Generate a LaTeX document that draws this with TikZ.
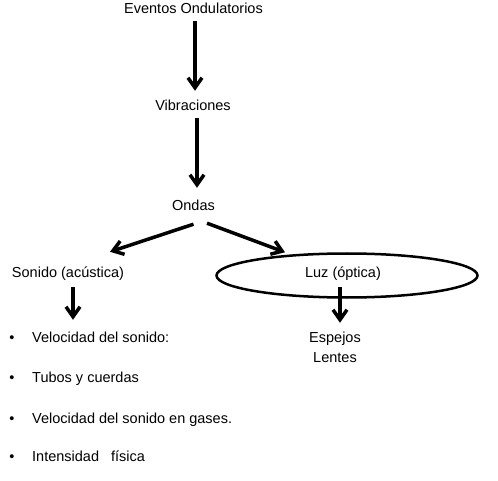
\documentclass[tikz,border=0pt]{standalone}
\usepackage{fontspec}
\setmainfont{Liberation Sans}
\usetikzlibrary{arrows.meta,calc,shapes.geometric}
\begin{document}
\begin{tikzpicture}[x=1pt,y=-1pt,
  font=\fontsize{14.5}{16}\selectfont,
  lbl/.style={inner sep=0pt, text height=10pt, text depth=3pt, anchor=base},
  item/.style={lbl, anchor=base west},
  arr/.style={line width=3.5pt, -{Straight Barb[length=10pt,width=14pt]}}]
\useasboundingbox[fill=white] (0,0) rectangle (498,481);

\node[lbl] (ev)  at (193.5,14)  {Eventos Ondulatorios};
\node[lbl] (vib) at (193,111)   {Vibraciones};
\node[lbl] (on)  at (193.5,211) {Ondas};
\node[lbl] (son) at (68,277)    {Sonido (acústica)};
\node[ellipse, draw, line width=2.5pt, minimum width=261pt, minimum height=44pt, inner sep=0pt] (elp) at (347,275.5) {};
\node[lbl] (luz) at (343,277)   {Luz (óptica)};
\node[lbl] (esp) at (335,342)   {Espejos};
\node[lbl] (len) at (335,362)   {Lentes};

\node[lbl] (b1) at (12,342) {•};
\node[lbl] (b2) at (12,382) {•};
\node[lbl] (b3) at (12,423) {•};
\node[lbl] (b4) at (12,461) {•};
\node[item] (v1) at (32,342) {Velocidad del sonido:};
\node[item] (v2) at (32,382) {Tubos y cuerdas};
\node[item] (v3) at (32,423) {Velocidad del sonido en gases.};
\node[item] (v4) at (32,461) {Intensidad \ \ física};

\draw[arr, shorten <=4pt, shorten >=10pt] ([xshift=1.5pt]ev.south) -- ([xshift=2pt]vib.north);
\draw[arr, shorten <=4pt, shorten >=13pt] ([xshift=4pt]vib.south) -- ([xshift=3.5pt]on.north);
\draw[arr] ($(on.south)+(0,10)$) -- ($(son.north)+(42,-15)$);
\draw[arr] ($(on.south)+(13.5,9)$) -- ($(elp.north)+(-62,0)$);
\draw[arr, shorten <=7pt, shorten >=12pt] ([xshift=5pt]son.south) -- ([xshift=5pt]son.south |- v1.north);
\draw[arr, shorten <=7pt, shorten >=9pt] ([xshift=-3pt]luz.south) -- ([xshift=-3pt]luz.south |- esp.north);
\end{tikzpicture}
\end{document}
